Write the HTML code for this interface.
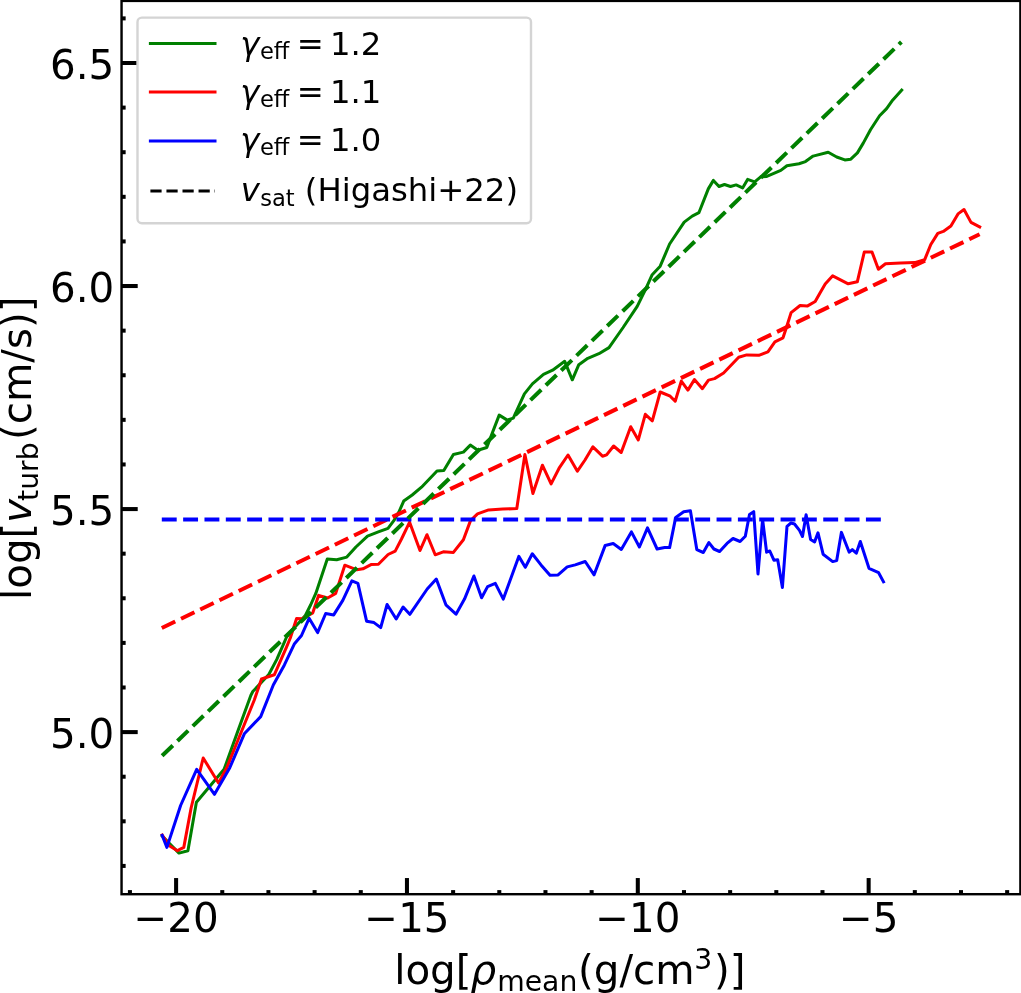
<!DOCTYPE html>
<html lang="en"><head><meta charset="utf-8"><title>log v_turb vs log rho_mean</title>
<style>
html,body{margin:0;padding:0;background:#fff;}
body{width:1021px;height:993px;overflow:hidden;}
svg{display:block;}
text{font-family:"DejaVu Sans","Liberation Sans",sans-serif;fill:#000;}
.it{font-style:oblique;}
.t{font-size:40.4px;}
.s{font-size:28.28px;}
.l{font-size:32.3px;}
.ls{font-size:22.6px;}
.sol{fill:none;stroke-width:3.03;stroke-linejoin:round;stroke-linecap:square;}
.dsh{fill:none;stroke-width:4.03;stroke-dasharray:14.9 6.437;stroke-linecap:butt;}
</style></head><body>
<svg width="1021" height="993" viewBox="0 0 1021 993">
<rect x="0" y="0" width="1021" height="993" fill="#fff"/>
<g id="curves">
<polyline class="sol" stroke="#008000" points="162.2,836 171,845 179,853.1 187.9,850.7 196.4,802.3 224.1,769.3 238.6,729 250.8,695.5 252.8,691.5 268.8,674.5 276.8,659.4 283.4,644.3 286.6,637 293,629 300.5,621.1 305.5,615.1 310.6,605 315.8,593.4 327.3,559.1 336.7,559.7 346.8,557.1 355.9,547 367.5,536.1 378.3,531.9 388,528.3 394,520.4 398.9,512 403.7,501.1 412.2,495 421.5,487.2 437,471 443.8,470.5 453.4,454.5 463.4,452.1 470.3,445.1 477.8,450.2 486.8,447.5 492.2,433.2 499.2,415.1 507.3,420.1 513.3,418.1 524.4,393.9 532.4,383.9 543.5,374.4 552.6,370.2 564.7,361.3 572.3,379.8 578.8,364.7 587.8,358.3 598.9,353.7 609,347.6 623.1,327.5 637.2,306.3 645.2,290.2 652.2,274.7 660.2,266.2 669.6,244 684.2,222.1 692.2,216.1 698.9,212.7 708.3,188.9 713.4,180.4 719,186.5 724.5,184.5 730.5,186.5 736.1,184.9 742.6,187.9 747.6,179.4 754.7,181.9 760.7,176.8 766.8,176.4 780.8,170.4 786.9,165.7 799,163.7 805.5,161.6 813.1,156.1 828.2,152.2 836.7,157 844.8,159.9 850.8,159.2 857.4,152.9 863.4,142.9 870.5,129.8 879.6,115.7 886.6,108.6 892.6,100.2 901.7,90.1"/>
<polyline class="sol" stroke="#ff0000" points="162.2,835 169.3,845.8 177.4,850.7 183.8,847.4 191.1,808 203.2,758 218.5,783 226.8,767.7 238.0,740 254.3,700 261.5,679 274.3,674.8 286.4,647.3 290.3,638 296.6,618.5 301.8,618.8 312.8,612.8 318.6,595.4 327.7,598 335.7,593.4 344.8,565.2 356.9,569.8 362.9,568.8 371,564.6 378.4,564.2 388.1,554.5 395.2,551.1 401.5,539 409.6,522.2 420,550.5 427,534.7 435.2,554.8 443.3,551.8 453.4,552.4 463.4,539.7 470.5,520.6 477.5,513.9 488.6,509.9 502.7,509.1 516.8,508.5 524.9,454.5 532.9,493.4 542.4,465.2 551.1,483.9 559.1,468.2 568,455 577.4,471.2 585,460 592.9,446.8 602.5,456.2 606.6,454.9 613.6,446 621.2,452.5 630.7,426.7 638.3,439.9 645.3,414.3 652.3,420.8 660.2,392 670.2,396.2 675.2,401.2 681.3,381.1 687.9,390.1 694.4,379.6 702.4,388.7 708.5,380.1 714.5,378.6 723.6,373 738.7,357.3 746.7,354.9 758.8,355.3 767.9,351.9 774.9,341.8 783,337.8 786,328.7 791.1,312.6 800.1,305.5 807.2,306.1 815.2,301.5 820,292.9 825.2,284.1 832.7,275.8 848.2,283.8 857.3,281.8 864.3,252 872,252 878.4,269.3 885.5,263.7 900.6,263.1 914.7,262.6 924.7,259.6 930.8,244.5 937.8,233.4 943.3,231.4 950.9,226 958,213.9 964,209.5 971,222.4 979.7,227.0"/>
<polyline class="sol" stroke="#0000ff" points="162.2,835.4 166.9,847.4 180.6,805.5 196.7,769.3 214.5,794.3 229.8,767.7 244.3,733.8 260.7,716.6 273.3,685 284.4,664.9 294.5,643.7 301.5,635.5 309.1,618.3 317.6,632.6 325.7,613.5 333.7,614.9 342.8,600.4 351.9,580.9 357.9,583.3 366.6,621.2 374,622.6 380.7,627.6 387.1,604.5 396.2,619 403.1,607 409.8,614.3 427.2,589 436.3,579 445.9,604.8 456,614.2 464.5,599.1 473.9,576 481.6,597.7 487.6,586.6 495.3,583.4 503.3,599.1 518.8,556.4 525.3,567.3 532.3,553.8 541,564.9 550,575.3 558.1,574.9 567.2,566.9 575.2,564.9 585.2,561.5 594.1,574.8 605.2,545.4 613.2,543.6 621.3,549.4 631.4,531.9 639.4,547 647.5,527.9 657.1,549 664.6,547.6 669.6,547.6 675.7,517.4 683.7,511.8 690.4,510.8 696.8,549.6 703.3,552.5 708.9,542.6 713.9,549 719.6,551.5 727,543.4 733,538.5 740.1,541.5 745.3,536.2 749.5,514.5 753.7,511.7 758,574 762.6,519.4 766.6,552.2 769.8,551 773.9,560.2 777.7,559.8 782.4,587.4 787,526.4 791,523 794.5,524 799.5,530.4 802.5,536.5 806.1,514.7 810.6,539.5 814.6,541.9 818,532.8 823.1,554.2 832.7,561.6 836.7,560.6 841.4,532.4 849.2,552.2 852.3,549.6 856.3,553.2 860.3,541.5 869,568.3 878.6,572.7 883.5,581.8"/>
<line class="dsh" stroke="#ff0000" x1="161.8" y1="628" x2="979.6" y2="234.3"/>
<line class="dsh" stroke="#0000ff" x1="161.8" y1="519.4" x2="881.5" y2="519.4"/>
<line class="dsh" stroke="#008000" x1="162.1" y1="755.8" x2="901.4" y2="42"/>
</g>
<g id="ticks" stroke="#000" stroke-width="4.04" stroke-linecap="butt">
<line x1="176.10" y1="894.20" x2="176.10" y2="878.04"/>
<line x1="406.95" y1="894.20" x2="406.95" y2="878.04"/>
<line x1="637.80" y1="894.20" x2="637.80" y2="878.04"/>
<line x1="868.65" y1="894.20" x2="868.65" y2="878.04"/>
<line x1="121.55" y1="732.10" x2="137.71" y2="732.10"/>
<line x1="121.55" y1="509.07" x2="137.71" y2="509.07"/>
<line x1="121.55" y1="286.03" x2="137.71" y2="286.03"/>
<line x1="121.55" y1="63.00" x2="137.71" y2="63.00"/>
</g>
<g id="minorticks" stroke="#000" stroke-width="4.03" stroke-linecap="butt">
<line x1="129.93" y1="894.20" x2="129.93" y2="890.10"/>
<line x1="222.27" y1="894.20" x2="222.27" y2="890.10"/>
<line x1="268.44" y1="894.20" x2="268.44" y2="890.10"/>
<line x1="314.61" y1="894.20" x2="314.61" y2="890.10"/>
<line x1="360.78" y1="894.20" x2="360.78" y2="890.10"/>
<line x1="453.12" y1="894.20" x2="453.12" y2="890.10"/>
<line x1="499.29" y1="894.20" x2="499.29" y2="890.10"/>
<line x1="545.46" y1="894.20" x2="545.46" y2="890.10"/>
<line x1="591.63" y1="894.20" x2="591.63" y2="890.10"/>
<line x1="683.97" y1="894.20" x2="683.97" y2="890.10"/>
<line x1="730.14" y1="894.20" x2="730.14" y2="890.10"/>
<line x1="776.31" y1="894.20" x2="776.31" y2="890.10"/>
<line x1="822.48" y1="894.20" x2="822.48" y2="890.10"/>
<line x1="914.82" y1="894.20" x2="914.82" y2="890.10"/>
<line x1="960.99" y1="894.20" x2="960.99" y2="890.10"/>
<line x1="1007.16" y1="894.20" x2="1007.16" y2="890.10"/>
<line x1="121.55" y1="865.92" x2="125.65" y2="865.92"/>
<line x1="121.55" y1="821.31" x2="125.65" y2="821.31"/>
<line x1="121.55" y1="776.71" x2="125.65" y2="776.71"/>
<line x1="121.55" y1="687.49" x2="125.65" y2="687.49"/>
<line x1="121.55" y1="642.89" x2="125.65" y2="642.89"/>
<line x1="121.55" y1="598.28" x2="125.65" y2="598.28"/>
<line x1="121.55" y1="553.67" x2="125.65" y2="553.67"/>
<line x1="121.55" y1="464.46" x2="125.65" y2="464.46"/>
<line x1="121.55" y1="419.85" x2="125.65" y2="419.85"/>
<line x1="121.55" y1="375.24" x2="125.65" y2="375.24"/>
<line x1="121.55" y1="330.64" x2="125.65" y2="330.64"/>
<line x1="121.55" y1="241.42" x2="125.65" y2="241.42"/>
<line x1="121.55" y1="196.82" x2="125.65" y2="196.82"/>
<line x1="121.55" y1="152.21" x2="125.65" y2="152.21"/>
<line x1="121.55" y1="107.60" x2="125.65" y2="107.60"/>
<line x1="121.55" y1="18.39" x2="125.65" y2="18.39"/>
</g>
<rect x="121.55" y="0.90" width="898.85" height="893.30" fill="none" stroke="#000" stroke-width="2.42" stroke-linejoin="miter"/>
<g id="xticklabels" class="t" text-anchor="middle">
<text class="t" x="176.10" y="931.9">−20</text>
<text class="t" x="406.95" y="931.9">−15</text>
<text class="t" x="637.80" y="931.9">−10</text>
<text class="t" x="868.65" y="931.9">−5</text>
</g>
<g id="yticklabels" text-anchor="end">
<text class="t" x="114.3" y="747.70">5.0</text>
<text class="t" x="114.3" y="524.67">5.5</text>
<text class="t" x="114.3" y="301.63">6.0</text>
<text class="t" x="114.3" y="78.59">6.5</text>
</g>
<g id="xlabel">
<text class="t" x="394.2" y="984">log[</text>
<text class="t it" x="470.5" y="984">ρ</text>
<text class="s" x="497.2" y="990.6">mean</text>
<text class="t" x="578" y="984">(g/cm</text>
<text class="s" x="694.2" y="968.7">3</text>
<text class="t" x="714" y="984">)]</text>
</g>
<g id="ylabel" transform="translate(31.0,600) rotate(-90)">
<text class="t" x="0" y="0">log[</text>
<text class="t it" x="76.9" y="0">v</text>
<text class="s" x="99.1" y="6.6">turb</text>
<text class="t" x="160" y="0">(cm/s)]</text>
</g>
<g id="legend">
<rect x="137.5" y="17.6" width="393.5" height="205.6" rx="4.4" ry="4.4" fill="#fff" fill-opacity="0.8" stroke="#d4d4d4" stroke-width="2.4"/>
<line x1="150.4" y1="43.5" x2="215" y2="43.5" stroke="#008000" stroke-width="3.03" stroke-linecap="square"/>
<text class="l it" x="240.3" y="54.6">γ</text>
<text class="ls" x="259.9" y="59">eff</text>
<text class="l" x="296.7" y="54.6">=</text>
<text class="l" x="330" y="54.6">1.2</text>
<line x1="150.4" y1="92.1" x2="215" y2="92.1" stroke="#ff0000" stroke-width="3.03" stroke-linecap="square"/>
<text class="l it" x="240.3" y="102.7">γ</text>
<text class="ls" x="259.9" y="107.1">eff</text>
<text class="l" x="296.7" y="102.7">=</text>
<text class="l" x="330" y="102.7">1.1</text>
<line x1="150.4" y1="140.9" x2="215" y2="140.9" stroke="#0000ff" stroke-width="3.03" stroke-linecap="square"/>
<text class="l it" x="240.3" y="150.7">γ</text>
<text class="ls" x="259.9" y="155.1">eff</text>
<text class="l" x="296.7" y="150.7">=</text>
<text class="l" x="330" y="150.7">1.0</text>
<line x1="150.4" y1="190.9" x2="215" y2="190.9" stroke="#000" stroke-width="3.03" stroke-dasharray="11.2 4.85"/>
<text class="l it" x="240.8" y="201.2">v</text>
<text class="ls" x="260.2" y="205.5">sat</text>
<text class="l" x="304.8" y="201.2">(Higashi+22)</text>
</g>
</svg></body></html>
